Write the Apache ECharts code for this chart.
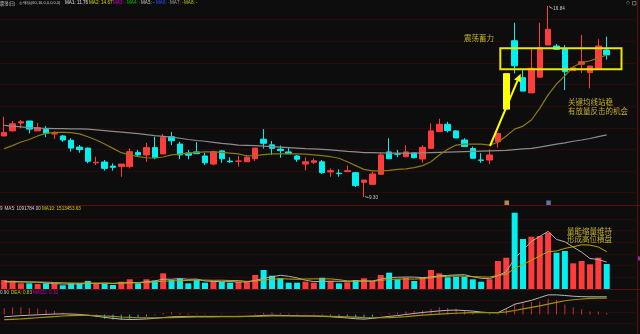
<!DOCTYPE html>
<html><head><meta charset="utf-8">
<script src="https://cdn.jsdelivr.net/npm/echarts/dist/echarts.min.js"></script>
<style>html,body{margin:0;padding:0;background:#0d0d0d;}#c{width:640px;height:334px;}</style>
</head><body><div id="c"></div><script>
// ---- data ----
const categories = [1,2,3,4,5,6,7,8,9,10,11,12,13,14,15,16,17,18,19,20,21,22,23,24,25,26,27,28,29,30,31,32,33,34,35,36,37,38,39,40,41,42,43,44,45,46,47,48,49,50,51,52,53,54,55,56,57,58,59,60,61,62,63,64,65,66,67,68,69,70,71,72,73];
// [open, close, low, high]
const candles = [
[11.71,11.85,11.70,12.47],[11.91,12.19,11.89,12.30],[12.22,12.27,12.01,12.34],[12.30,11.98,11.81,12.30],[11.91,12.04,11.91,12.23],
[11.97,11.81,11.66,12.10],[11.79,11.80,11.59,11.90],[11.71,11.55,11.48,11.75],[11.54,11.23,11.09,11.62],[11.27,11.17,11.05,11.35],
[11.23,10.71,10.63,11.25],[10.65,10.67,10.56,10.89],[10.68,10.43,10.34,10.76],[10.52,10.47,10.34,10.63],[10.50,10.60,10.10,10.60],
[10.50,11.09,10.43,11.22],[11.06,10.96,10.89,11.16],[10.96,11.25,10.69,11.44],[11.25,10.85,10.79,11.68],[11.00,11.66,11.00,11.79],
[11.68,11.52,11.35,11.87],[11.39,10.96,10.79,11.48],[11.04,10.95,10.79,11.16],[11.08,11.01,11.01,11.47],[10.92,10.65,10.56,11.05],
[10.60,11.09,10.55,11.13],[11.12,10.81,10.65,11.16],[10.72,10.69,10.65,10.87],[10.71,10.72,10.50,10.93],[10.69,10.87,10.69,10.96],
[10.81,11.23,10.72,11.24],[11.58,11.42,11.21,11.98],[11.36,11.22,10.96,11.51],[11.19,11.13,10.85,11.33],[11.08,11.01,11.01,11.27],
[10.92,10.79,10.69,10.96],[10.60,10.69,10.35,10.87],[10.67,10.73,10.60,10.83],[10.69,10.26,10.21,10.76],[10.29,10.34,10.10,10.43],
[10.24,10.22,10.10,10.39],[10.30,10.34,10.29,10.54],[10.26,9.75,9.69,10.29],[9.88,9.97,9.30,9.97],[9.80,10.21,9.80,10.30],
[10.20,10.96,10.17,11.03],[11.08,10.81,10.81,11.62],[11.00,10.99,10.87,11.16],[10.89,11.08,10.89,11.34],[11.04,10.85,10.83,11.05],
[10.80,11.26,10.65,11.34],[11.22,11.91,11.22,12.21],[11.88,12.17,11.88,12.39],[12.17,11.92,11.85,12.27],[11.91,11.63,11.63,11.94],
[11.55,11.29,11.29,11.62],[11.21,10.83,10.83,11.29],[10.76,10.75,10.65,11.03],[10.76,10.96,10.60,11.18],[11.48,11.81,11.25,11.81],
[12.77,14.17,12.77,14.17],[15.47,14.48,14.18,16.18],[14.01,13.48,13.48,14.31],[13.41,14.38,13.41,15.17],[14.03,15.19,14.03,16.18],
[15.30,15.92,15.30,16.84],[15.26,15.13,15.10,15.34],[15.15,14.25,13.52,15.30],[14.29,14.40,14.29,14.44],[14.54,14.64,14.20,15.70],
[14.21,14.47,13.59,14.47],[14.38,15.26,14.38,15.53],[15.10,14.91,14.72,15.63]
];
const highlightIndex = 60; // limit-up day drawn in yellow
const ma60 = [12.13,12.10,12.07,12.04,12.02,12.01,12.00,12.00,11.99,11.99,11.98,11.95,11.92,11.89,11.86,11.83,11.80,11.76,11.72,11.69,
11.66,11.62,11.57,11.53,11.50,11.46,11.42,11.39,11.35,11.34,11.33,11.31,11.29,11.27,11.25,11.23,11.21,11.20,11.18,11.16,
11.13,11.10,11.08,11.05,11.05,11.04,11.03,11.03,11.03,11.03,11.04,11.05,11.06,11.07,11.08,11.09,11.10,11.11,11.12,11.13,
11.14,11.17,11.20,11.22,11.27,11.33,11.39,11.44,11.50,11.55,11.61,11.68,11.75];
const ma10 = [11.21,11.33,11.47,11.57,11.71,11.81,11.85,11.85,11.84,11.79,11.68,11.55,11.39,11.22,11.05,10.96,10.89,10.85,10.84,10.88,
10.96,10.99,11.03,11.06,11.08,11.08,11.06,11.03,11.00,10.92,10.93,10.97,11.00,11.00,11.00,11.00,10.99,10.96,10.93,10.89,
10.83,10.69,10.54,10.39,10.33,10.33,10.35,10.39,10.41,10.46,10.54,10.69,10.96,11.18,11.35,11.39,11.39,11.39,11.35,11.46,
11.71,11.98,12.10,12.34,12.80,13.33,13.76,14.08,14.44,14.60,14.68,14.78,14.91];
// volume, thousand shares
const volumes = [365,337,231,231,203,231,203,150,231,231,325,231,203,162,296,394,231,394,337,637,
365,406,231,365,256,325,296,256,296,296,568,771,540,434,256,256,296,256,459,325,
231,272,365,434,325,568,662,394,459,325,475,771,637,475,499,499,394,296,394,1137,
1271,3098,2030,2123,2152,2286,1474,1543,1043,1137,1003,1271,1015];
const volMA5 = [305,305,296,284,272,244,219,203,203,203,227,235,244,231,244,256,256,296,329,398,
394,426,394,402,325,309,296,300,284,292,345,438,495,556,516,451,357,300,309,317,
313,309,329,329,325,394,471,475,487,483,463,487,536,552,572,581,499,434,418,544,
698,1242,1587,1933,2136,2339,2014,1916,1701,1498,1238,1198,1092];
const volMA10 = [284,284,284,284,284,276,264,252,244,240,244,231,227,223,235,252,252,268,280,321,
325,341,345,365,361,353,357,345,345,309,325,361,394,418,406,394,406,410,410,410,
378,329,313,317,317,345,390,402,406,402,418,455,499,516,532,524,499,491,483,548,
601,836,995,1169,1340,1518,1543,1648,1717,1795,1782,1705,1514];
const dif = [-0.12,-0.09,-0.06,-0.04,-0.02,0.00,0.02,0.03,0.02,0.00,
-0.04,-0.09,-0.15,-0.20,-0.24,-0.26,-0.25,-0.23,-0.20,-0.16,
-0.12,-0.11,-0.10,-0.10,-0.10,-0.10,-0.10,-0.10,-0.10,-0.10,
-0.08,-0.05,-0.04,-0.05,-0.06,-0.07,-0.08,-0.08,-0.10,-0.12,
-0.15,-0.18,-0.22,-0.24,-0.20,-0.15,-0.10,-0.06,0.00,0.05,
0.10,0.14,0.18,0.21,0.22,0.20,0.17,0.12,0.09,0.09,
0.30,0.52,0.62,0.72,0.86,1.00,1.00,0.97,0.93,0.91,0.90,0.90,0.90];
const dea = [-0.27,-0.25,-0.23,-0.20,-0.17,-0.14,-0.11,-0.08,-0.06,-0.05,
-0.05,-0.06,-0.08,-0.10,-0.13,-0.15,-0.17,-0.18,-0.18,-0.17,
-0.16,-0.15,-0.14,-0.13,-0.12,-0.12,-0.11,-0.11,-0.11,-0.10,
-0.10,-0.09,-0.08,-0.08,-0.08,-0.08,-0.08,-0.08,-0.09,-0.10,
-0.11,-0.12,-0.14,-0.16,-0.17,-0.17,-0.16,-0.14,-0.11,-0.07,
-0.04,-0.01,0.02,0.04,0.06,0.08,0.09,0.09,0.09,0.09,
0.13,0.20,0.28,0.36,0.44,0.53,0.62,0.70,0.75,0.79,0.82,0.83,0.83];
const macd = [0.31,0.35,0.37,0.33,0.30,0.24,0.19,0.09,0.03,-0.03,
-0.08,-0.15,-0.22,-0.26,-0.27,-0.25,-0.17,-0.10,-0.04,0.07,
0.11,0.07,0.05,0.04,0.02,0.01,0.02,0.00,-0.01,0.01,
0.03,0.08,0.10,0.07,0.05,0.04,0.02,0.03,-0.03,-0.06,
-0.10,-0.12,-0.17,-0.20,-0.12,0.02,0.06,0.09,0.145,0.17,
0.20,0.28,0.37,0.33,0.30,0.20,0.09,0.00,-0.03,0.06,
0.33,0.55,0.57,0.63,0.66,0.80,0.75,0.51,0.37,0.27,0.145,0.145,0.08];

// ---- build ----
const RED = '#ff3c3c', CYAN = '#00f0f0', YEL = '#ffff00';
const xCats = categories.map(String).concat(['p1','p2','p3']);
const candleData = candles.map((c, i) => i === highlightIndex
  ? { value: c, itemStyle: { color: YEL, color0: YEL, borderColor: YEL, borderColor0: YEL } }
  : c);
const volData = volumes.map((v, i) => ({ value: v, itemStyle: { color: candles[i][1] >= candles[i][0] ? RED : CYAN } }));
const macdData = macd.map(v => ({ value: v, itemStyle: { color: v >= 0 ? '#c83030' : '#00c8c8' } }));

const W = 636;
const grids = [
  { left: 0, width: W, top: 0, height: 205 },
  { left: 0, width: W, top: 206, height: 83 },
  { left: 0, width: W, top: 289, height: 69.7 },
  { left: 0, width: W, top: 19.5, height: 173.2 },
  { left: 0, width: W, top: 218.8, height: 70.2 },
  { left: 0, width: W, top: 300.7, height: 35.1 }
];
const catAxis = gi => ({ type: 'category', gridIndex: gi, data: xCats, boundaryGap: true, show: false });
const helperX = gi => ({ type: 'value', gridIndex: gi, min: 0, max: 1, show: false });
const hidY = (gi, min, max) => ({ type: 'value', gridIndex: gi, min, max, show: false, splitLine: { show: false } });
const lineY = (gi, max) => ({ type: 'value', gridIndex: gi, min: 0, max, interval: 1, inverse: true,
  axisLine: { show: false }, axisTick: { show: false }, axisLabel: { show: false },
  splitLine: { show: true, lineStyle: { color: '#2a0a0a', width: 1 } } });

const txt = (x, y, s, color, size, font) => ({ type: 'text', x, y, silent: true, z: 100,
  style: { text: s, fill: color, font: (size || 4.6) + 'px ' + (font || '"Liberation Sans", Arial, sans-serif'), verticalAlign: 'middle' } });
const ANN = '#c2b030';
const annFont = '"Noto Sans CJK SC", sans-serif';

const graphic = [
  // panel separators
  { type: 'line', silent: true, z: 90, shape: { x1: 0, y1: 205.5, x2: 640, y2: 205.5 }, style: { stroke: '#5e0c0c', lineWidth: 1 } },
  { type: 'line', silent: true, z: 90, shape: { x1: 0, y1: 289.5, x2: 640, y2: 289.5 }, style: { stroke: '#5e0c0c', lineWidth: 1 } },
  { type: 'line', silent: true, z: 90, shape: { x1: 637.5, y1: 0, x2: 637.5, y2: 334 }, style: { stroke: '#5e0c0c', lineWidth: 1 } },
  // headers
  txt(0, 3, '震荡(日)', '#c8c8c8', 4.2, annFont), txt(18.5, 3, '◎', '#c8c8c8', 4.2), txt(23, 3, '张倩(60,10,0,0,0,0,0)', '#c8c8c8', 4.0),
  txt(65, 3, 'MA1: 11.76', '#e0e0e0'), txt(89, 3, 'MA2: 14.67', '#d8d800'), txt(113, 3, 'MA3: -', '#d000d0'),
  txt(127, 3, 'MA4: -', '#00c000'), txt(141, 3, 'MA5: -', '#c0c0c0'), txt(156, 3, 'MA6: -', '#3050ff'),
  txt(170, 3, 'MA7: -', '#a0a0a0'), txt(184, 3, 'MA8: -', '#c0c000'),
  txt(0, 208.7, '9', '#c8c8c8'), txt(4.5, 208.7, 'MA5: 1091784.00', '#d0d0d0'), txt(42, 208.7, 'MA10: 1513453.63', '#d0d000'),
  txt(0, 293, '0.90', '#c8c8c8'), txt(11, 293, 'DEA: 0.83', '#c8c800'), txt(33, 293, 'MACD: 0.10', '#c000c0'),
  // high / low labels
  { type: 'polyline', silent: true, z: 100, shape: { points: [[549, 6.5], [552.5, 8.5]] }, style: { stroke: '#c8c8c8', lineWidth: 0.8 } },
  txt(553.3, 8.5, '16.84', '#c8c8c8'),
  { type: 'polyline', silent: true, z: 100, shape: { points: [[365, 196.7], [368.5, 197.5]] }, style: { stroke: '#c8c8c8', lineWidth: 0.8 } },
  txt(369, 197.7, '9.30', '#c8c8c8'),
  // box and arrow
  { type: 'rect', silent: true, z: 95, shape: { x: 500.3, y: 48.3, width: 121.2, height: 20.9 }, style: { fill: 'none', stroke: '#e8e800', lineWidth: 2 } },
  { type: 'line', silent: true, z: 95, shape: { x1: 490, y1: 146, x2: 517.4, y2: 80.9 }, style: { stroke: YEL, lineWidth: 2 } },
  { type: 'polygon', silent: true, z: 95, shape: { points: [[520.7, 73.8], [514.2, 79.5], [520.6, 82.3]] }, style: { fill: YEL } },
  // annotations
  txt(464, 38.3, '震荡蓄力', ANN, 7.5, annFont),
  txt(568, 102.5, '关键均线站稳', ANN, 7.5, annFont),
  txt(568, 111, '有放量反击的机会', ANN, 7.5, annFont),
  txt(567, 231.5, '量能缩量维持', ANN, 7.5, annFont),
  txt(567, 239.5, '形成高位横盘', ANN, 7.5, annFont),
  // small markers
  { type: 'rect', silent: true, z: 95, shape: { x: 504.5, y: 200.5, width: 4.5, height: 4.5 }, style: { fill: '#b88850' } },
  { type: 'rect', silent: true, z: 95, shape: { x: 546.3, y: 200.5, width: 4.5, height: 4.5 }, style: { fill: '#5878a8' } },
  { type: 'rect', silent: true, z: 95, shape: { x: 638, y: 256.5, width: 2, height: 4 }, style: { fill: '#9030a0' } },
  txt(625.5, 3, '◇', '#909090', 5),
  { type: 'rect', silent: true, z: 95, shape: { x: 632.5, y: 1.5, width: 3.5, height: 3.5 }, style: { fill: 'none', stroke: '#909090', lineWidth: 0.7 } }
];

const chart = echarts.init(document.getElementById('c'), null, { renderer: 'canvas' });
chart.setOption({
  animation: false,
  backgroundColor: '#0d0d0d',
  grid: grids,
  xAxis: [catAxis(0), catAxis(1), catAxis(2), helperX(3), helperX(4), helperX(5)],
  yAxis: [hidY(0, 8.984, 17.077), hidY(1, 0, 3370), hidY(2, -1.0, 1.3), lineY(3, 8), lineY(4, 6), lineY(5, 3)],
  series: [
    { type: 'candlestick', xAxisIndex: 0, yAxisIndex: 0, data: candleData, barWidth: 6, clip: false, z: 3,
      itemStyle: { color: RED, color0: CYAN, borderColor: RED, borderColor0: CYAN, borderWidth: 1 } },
    { type: 'line', xAxisIndex: 0, yAxisIndex: 0, data: ma60, symbol: 'none', z: 4, lineStyle: { color: '#8c8c8c', width: 1.2 } },
    { type: 'line', xAxisIndex: 0, yAxisIndex: 0, data: ma10, symbol: 'none', z: 4, lineStyle: { color: '#8a7a14', width: 1.2 } },
    { type: 'bar', xAxisIndex: 1, yAxisIndex: 1, data: volData, barWidth: 6, z: 3 },
    { type: 'line', xAxisIndex: 1, yAxisIndex: 1, data: volMA5, symbol: 'none', z: 4, lineStyle: { color: '#b0b0b0', width: 1 } },
    { type: 'line', xAxisIndex: 1, yAxisIndex: 1, data: volMA10, symbol: 'none', z: 4, lineStyle: { color: '#b8a800', width: 1 } },
    { type: 'bar', xAxisIndex: 2, yAxisIndex: 2, data: macdData, barWidth: 1, z: 3 },
    { type: 'line', xAxisIndex: 2, yAxisIndex: 2, data: dif, symbol: 'none', z: 4, lineStyle: { color: '#b8b8b8', width: 1 } },
    { type: 'line', xAxisIndex: 2, yAxisIndex: 2, data: dea, symbol: 'none', z: 4, lineStyle: { color: '#a09010', width: 1.2 } }
  ],
  graphic
});
</script></body></html>
